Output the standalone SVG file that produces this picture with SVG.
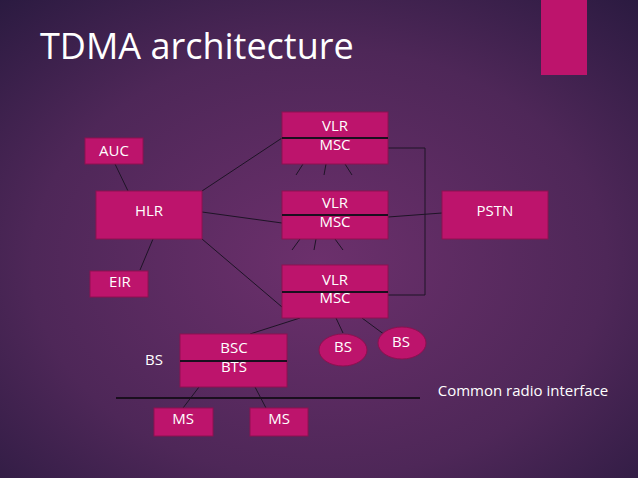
<svg xmlns="http://www.w3.org/2000/svg" width="638" height="478" viewBox="0 0 638 478">
<defs>
<radialGradient id="bg" cx="0.5" cy="0.55" r="0.75">
<stop offset="0" stop-color="#6c306c"/><stop offset="0.6" stop-color="#4e2758"/><stop offset="1" stop-color="#2a1a40"/>
</radialGradient>
<style>
.b{fill:#bd146c;stroke:#8e1050;stroke-width:1}
.t{font-family:"Open Sans","Liberation Sans",sans-serif;font-size:15px;fill:#fff;text-anchor:middle}
.l{stroke:#1e1426;stroke-width:1;fill:none}
.d{stroke:#1a0f1e;stroke-width:2}
</style>
</defs>
<rect width="638" height="478" fill="url(#bg)"/>
<rect x="541" y="0" width="46" height="75" fill="#bd146c"/>
<text x="40" y="59" font-family="'Open Sans','Liberation Sans',sans-serif" font-size="36" fill="#fff">TDMA architecture</text>
<g id="connectors" class="l">
<line x1="115" y1="164" x2="128" y2="191"/>
<line x1="153" y1="239" x2="140" y2="270"/>
<line x1="202" y1="191" x2="282" y2="138"/>
<line x1="202" y1="212" x2="282" y2="223"/>
<line x1="202" y1="239" x2="282" y2="307"/>
<polyline points="388,148 425,148 425,295 388,295"/>
<line x1="388" y1="217" x2="442" y2="213"/>
<line x1="300" y1="318" x2="250" y2="334"/>
<line x1="336" y1="318" x2="343" y2="333"/>
<line x1="362" y1="318" x2="385" y2="335"/>
<line x1="199" y1="387" x2="183" y2="408"/>
<line x1="255" y1="387" x2="266" y2="408"/>
<line x1="303" y1="164" x2="296" y2="175"/><line x1="326" y1="164" x2="324" y2="175"/><line x1="345" y1="164" x2="352" y2="175"/>
<line x1="300" y1="239" x2="292" y2="250"/><line x1="316" y1="239" x2="314" y2="250"/><line x1="335" y1="239" x2="343" y2="250"/>
<line x1="116" y1="398" x2="420" y2="398" class="d"/>
</g>
<g id="msc1"><rect class="b" x="282" y="112" width="106" height="52"/><line class="d" x1="282" y1="138" x2="388" y2="138"/><text class="t" x="335" y="131">VLR</text><text class="t" x="335" y="150">MSC</text></g>
<g id="msc2"><rect class="b" x="282" y="191" width="106" height="48"/><line class="d" x1="282" y1="215" x2="388" y2="215"/><text class="t" x="335" y="208">VLR</text><text class="t" x="335" y="227">MSC</text></g>
<g id="msc3"><rect class="b" x="282" y="265" width="106" height="53"/><line class="d" x1="282" y1="292" x2="388" y2="292"/><text class="t" x="335" y="285">VLR</text><text class="t" x="335" y="303">MSC</text></g>
<g id="auc"><rect class="b" x="85" y="138" width="58" height="26"/><text class="t" x="114" y="156">AUC</text></g>
<g id="hlr"><rect class="b" x="96" y="191" width="106" height="48"/><text class="t" x="149" y="216">HLR</text></g>
<g id="eir"><rect class="b" x="90" y="271" width="58" height="26"/><text class="t" x="120" y="287">EIR</text></g>
<g id="pstn"><rect class="b" x="442" y="191" width="106" height="48"/><text class="t" x="495" y="216">PSTN</text></g>
<g id="bsc"><rect class="b" x="180" y="334" width="107" height="53"/><line class="d" x1="180" y1="361" x2="287" y2="361"/><text class="t" x="234" y="353">BSC</text><text class="t" x="234" y="372">BTS</text></g>
<g id="bs1"><ellipse class="b" cx="343" cy="350" rx="24" ry="16"/><text class="t" x="343" y="352">BS</text></g>
<g id="bs2"><ellipse class="b" cx="402" cy="343" rx="24" ry="16"/><text class="t" x="401" y="347">BS</text></g>
<g id="ms1"><rect class="b" x="154" y="408" width="59" height="28"/><text class="t" x="183" y="424">MS</text></g>
<g id="ms2"><rect class="b" x="250" y="408" width="58" height="28"/><text class="t" x="279" y="424">MS</text></g>
<text class="t" x="154" y="365">BS</text>
<text class="t" x="523" y="396">Common radio interface</text>
</svg>
